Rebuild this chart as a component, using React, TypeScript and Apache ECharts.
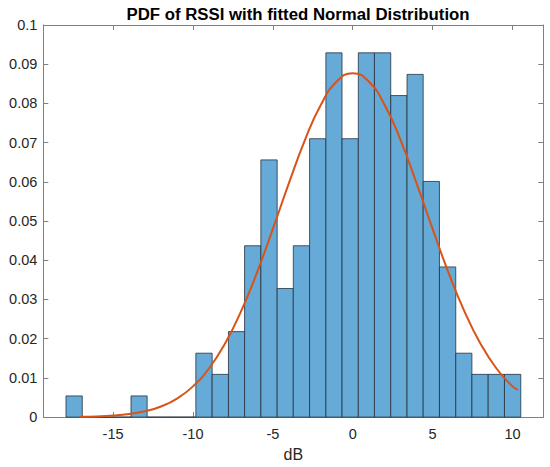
import React, { useEffect, useRef } from "react";
import * as echarts from "echarts";

// Histogram bin edges (dB)
const binEdges = [
  -17.95, -16.93, -15.92, -14.9, -13.88, -12.87, -11.85, -10.83, -9.82, -8.8,
  -7.78, -6.77, -5.75, -4.73, -3.72, -2.7, -1.68, -0.67, 0.35, 1.36, 2.38,
  3.4, 4.41, 5.43, 6.45, 7.46, 8.48, 9.5, 10.52,
];

// PDF value of each bin
const binDensity = [
  0.0054, 0, 0, 0, 0.0054, 0, 0, 0, 0.0163, 0.0109, 0.0218, 0.0437, 0.0656,
  0.0328, 0.0437, 0.071, 0.0929, 0.071, 0.0929, 0.0929, 0.082, 0.0874, 0.0601,
  0.0383, 0.0163, 0.0109, 0.0109, 0.0109,
];

// Fitted normal curve
const curveX = [
  -17.1, -16, -15, -14, -13, -12, -11, -10, -9, -8, -7, -6, -5, -4, -3, -2, -1,
  0, 1, 2, 3, 4, 5, 6, 7, 8, 9, 10, 10.35,
];
const curveY = [
  0.00008, 0.00018, 0.00038, 0.00077, 0.00148, 0.00271, 0.00472, 0.00784,
  0.0124, 0.0187, 0.0269, 0.0368, 0.048, 0.0596, 0.0706, 0.0796, 0.0856,
  0.0877, 0.0856, 0.0796, 0.0706, 0.0596, 0.048, 0.0368, 0.0269, 0.0187,
  0.0124, 0.00784, 0.00693,
];

const xTicks = [-15, -10, -5, 0, 5, 10];

const FONT = "'Liberation Sans', Arial, Helvetica, sans-serif";
const AXIS_COLOR = "#808080";
const TEXT_COLOR = "#262626";

export default function App() {
  const ref = useRef<HTMLDivElement>(null);

  useEffect(() => {
    if (!ref.current) return;
    const chart = echarts.init(ref.current, undefined, { renderer: "svg" });

    const barData = binDensity.map((d, i) => [binEdges[i], binEdges[i + 1], d]);
    const lineData = curveX.map((x, i) => [x, curveY[i]]);

    const xBase = {
      type: "value" as const,
      min: -19.37,
      max: 11.93,
      splitLine: { show: false },
      axisLine: { show: true, onZero: false, lineStyle: { color: AXIS_COLOR, width: 1 } },
    };
    const yBase = {
      type: "value" as const,
      min: 0,
      max: 0.1,
      interval: 0.01,
      splitLine: { show: false },
      axisLine: { show: true, onZero: false, lineStyle: { color: AXIS_COLOR, width: 1 } },
      axisTick: { show: true, inside: true, length: 5, lineStyle: { color: AXIS_COLOR } },
    };

    chart.setOption({
      animation: false,
      backgroundColor: "#ffffff",
      title: {
        text: "PDF of RSSI with fitted Normal Distribution",
        left: 293,
        textAlign: "center",
        top: 1,
        textStyle: { fontFamily: FONT, fontSize: 16.8, fontWeight: "bold", color: "#000" },
      },
      grid: { left: 43.3, right: 6.7, top: 25, bottom: 47.7 },
      xAxis: [
        {
          ...xBase,
          position: "bottom",
          name: "dB",
          nameLocation: "middle",
          nameGap: 28,
          nameTextStyle: { fontFamily: FONT, fontSize: 16, color: TEXT_COLOR },
          axisTick: {
            show: true,
            inside: true,
            length: 5,
            customValues: xTicks,
            lineStyle: { color: AXIS_COLOR },
          },
          axisLabel: {
            show: true,
            customValues: xTicks,
            margin: 9,
            fontFamily: FONT,
            fontSize: 14.5,
            color: TEXT_COLOR,
          },
        },
        {
          ...xBase,
          position: "top",
          axisTick: {
            show: true,
            inside: true,
            length: 5,
            customValues: xTicks,
            lineStyle: { color: AXIS_COLOR },
          },
          axisLabel: { show: false },
        },
      ],
      yAxis: [
        {
          ...yBase,
          position: "left",
          axisLabel: {
            show: true,
            margin: 6,
            fontFamily: FONT,
            fontSize: 14.5,
            color: TEXT_COLOR,
            formatter: (v: number) => String(parseFloat(v.toFixed(2))),
          },
        },
        {
          ...yBase,
          position: "right",
          axisLabel: { show: false },
        },
      ],
      series: [
        {
          type: "custom",
          xAxisIndex: 0,
          yAxisIndex: 0,
          data: barData,
          encode: { x: [0, 1], y: 2 },
          renderItem: (params: any, api: any) => {
            const x0 = api.value(0);
            const x1 = api.value(1);
            const h = api.value(2);
            const p0 = api.coord([x0, h]);
            const p1 = api.coord([x1, 0]);
            return {
              type: "rect",
              shape: { x: p0[0], y: p0[1], width: p1[0] - p0[0], height: p1[1] - p0[1] },
              style: { fill: "#66AAD7", stroke: "#24323d", lineWidth: 0.8 },
            };
          },
          z: 2,
        },
        {
          type: "line",
          xAxisIndex: 0,
          yAxisIndex: 0,
          data: lineData,
          smooth: true,
          symbol: "none",
          lineStyle: { color: "#D95319", width: 2 },
          z: 3,
        },
      ],
    });

    return () => chart.dispose();
  }, []);

  return (
    <div
      ref={ref}
      style={{ position: "fixed", left: 0, top: 0, width: 550, height: 467, background: "#fff" }}
    />
  );
}
